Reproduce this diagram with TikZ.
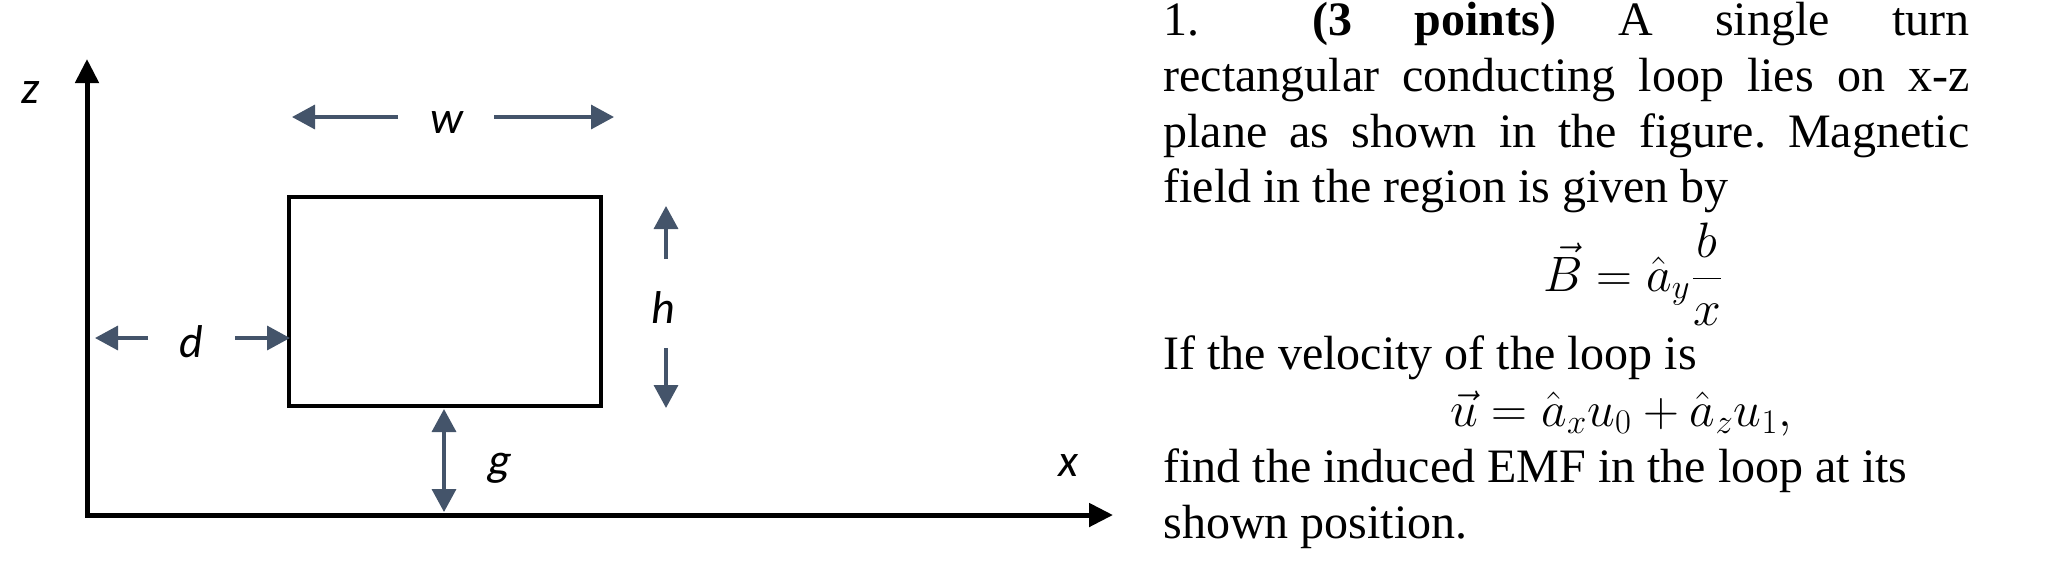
\documentclass[tikz,border=0pt]{standalone}
\usepackage{fontspec}
\setmainfont{Liberation Serif}
\newfontfamily\labfont{Carlito}
\newfontfamily\glabfont[FakeSlant=0.2]{Carlito}
\usetikzlibrary{arrows.meta}
\definecolor{dimcol}{HTML}{44546A}
\frenchspacing
\tikzset{
  axisline/.style={line width=2.5pt, line join=miter,
    {Triangle[length=12pt,width=11.5pt]}-{Triangle[length=12pt,width=11.5pt]}},
  dimarrow/.style={draw=dimcol, line width=1.75pt,
    -{Triangle[length=11.5pt,width=12pt]}},
  dimboth/.style={draw=dimcol, line width=1.75pt,
    {Triangle[length=11.5pt,width=12pt]}-{Triangle[length=11.5pt,width=12pt]}},
  lab/.style={font=\labfont\itshape\fontsize{23}{27}\selectfont, inner sep=0pt},
  glab/.style={font=\glabfont\fontsize{23}{27}\selectfont, inner sep=0pt},
  txt/.style={font=\fontsize{24}{28}\selectfont, anchor=base west, inner sep=0pt},
  loopstyle/.style={draw, line width=1.6pt, inner sep=0pt,
    minimum width=156pt, minimum height=104.5pt}
}
\begin{document}
\begin{tikzpicture}[x=0.5pt,y=-0.5pt]
\useasboundingbox (0,0) rectangle (2064,570);
% axes
\coordinate (O) at (87,515);
\coordinate (ztip) at (87,59);
\coordinate (xtip) at (1113,515);
\draw[axisline] (ztip) -- (O) -- (xtip);
\node[lab] (zlab) at (31,93) {z};
\node[lab] (xlab) at (1068,465) {x};
% loop
\node[loopstyle] (loopbox) at (445,301.5) {};
% w
\node[lab] (wlab) at (447,122) {w};
\coordinate (wl1) at (398,117);
\coordinate (wl2) at (292,117);
\coordinate (wr1) at (494,117);
\coordinate (wr2) at (614,117);
\draw[dimarrow] (wl1) -- (wl2);
\draw[dimarrow] (wr1) -- (wr2);
% h
\node[lab] (hlab) at (663,308) {h};
\coordinate (hu1) at (666,259);
\coordinate (hu2) at (666,206);
\coordinate (hd1) at (666,348);
\coordinate (hd2) at (666,408);
\draw[dimarrow] (hu1) -- (hu2);
\draw[dimarrow] (hd1) -- (hd2);
% d
\node[lab] (dlab) at (191,342) {d};
\coordinate (dl1) at (148,338);
\coordinate (dl2) at (95,338);
\coordinate (dr1) at (235,338);
\coordinate (dr2) at (290,338);
\draw[dimarrow] (dl1) -- (dl2);
\draw[dimarrow] (dr1) -- (dr2);
% g
\node[glab] (glab) at (497,468) {g};
\coordinate (g1) at (444,409);
\coordinate (g2) at (444,512);
\draw[dimboth] (g1) -- (g2);
% text
\node[txt] (l1) at (1163,35) {\makebox[74.5pt][l]{1.}\makebox[328.5pt][s]{\textbf{(3 points)} A single turn}};
\node[txt] (l2) at (1163,91) {\makebox[403pt][s]{rectangular conducting loop lies on x-z}};
\node[txt] (l3) at (1163,147) {\makebox[403pt][s]{plane as shown in the figure. Magnetic}};
\node[txt] (l4) at (1163,202) {field in the region is given by};
\node[txt] (beq) at (1543,291) {$\displaystyle \vec{B}=\hat{a}_y\frac{b}{x}$};
\node[txt] (l5) at (1163,369) {If the velocity of the loop is};
\node[txt] (ueq) at (1450,426) {$\vec{u}=\hat{a}_x u_0+\hat{a}_z u_1,$};
\node[txt] (l6) at (1163,482) {find the induced EMF in the loop at its};
\node[txt] (l7) at (1163,538) {shown position.};
\end{tikzpicture}
\end{document}
